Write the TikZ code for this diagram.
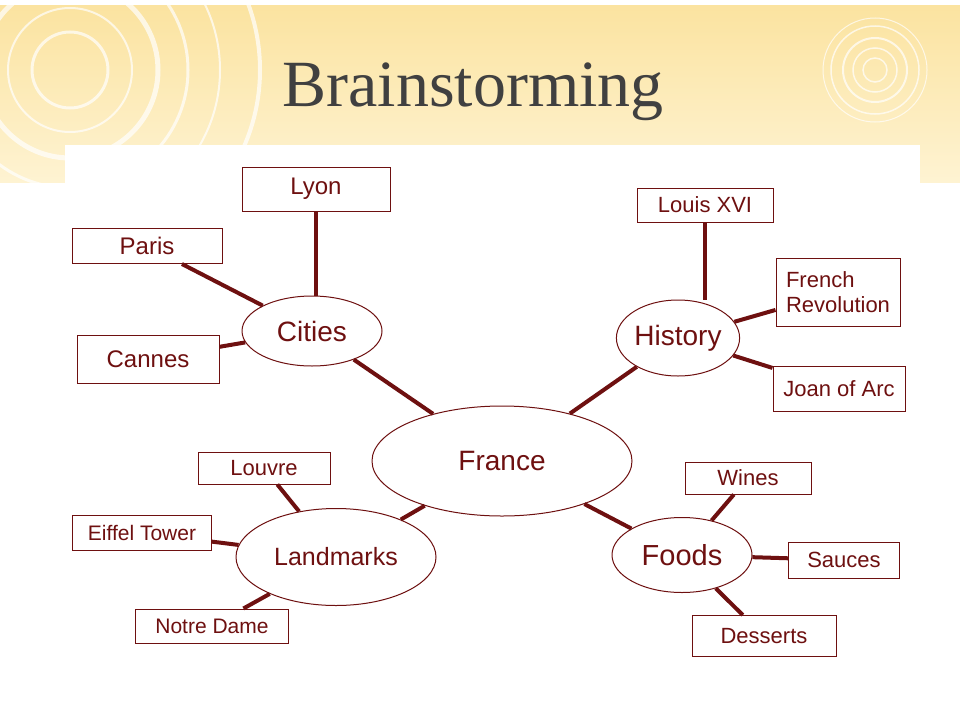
\documentclass[tikz,border=0pt]{standalone}
\usepackage{fontspec}
\setmainfont{Liberation Sans}
\newfontfamily\titlefont{Liberation Serif}
\usetikzlibrary{shapes.geometric}
\definecolor{dred}{HTML}{6E1010}
\definecolor{yel}{HTML}{FBE3A0}
\definecolor{yel2}{HTML}{FEF3D2}
\tikzset{
 box/.style={draw=dred,line width=1pt,text=dred,font=\fontsize{24}{26}\selectfont,inner sep=0pt,align=left},
 oval/.style={ellipse,draw=dred,line width=1pt,text=dred,inner sep=0pt},
 link/.style={draw=dred,line width=4pt},
 ring/.style={white,opacity=0.7}
}
\begin{document}
\begin{tikzpicture}[x=1pt,y=-1pt]
\useasboundingbox (0,0) rectangle (960,720);
\fill[white] (0,0) rectangle (960,720);
\shade[top color=yel,bottom color=yel2] (0,5) rectangle (960,182);
\begin{scope}
\clip (0,5) rectangle (960,182);
\foreach \r/\w in {38/3,62/2,88/5,118/3,150/2,190/4}{
 \draw[ring,line width=\w pt] (70,70) circle (\r);}
\foreach \r/\w in {12/1.5,22/1.5,32/2,44/1.5,52/1}{
 \draw[ring,line width=\w pt] (875,70) circle (\r);}
\end{scope}
\fill[white] (65,145) rectangle (920,720);
\node[text=black!75,font=\titlefont\fontsize{66}{70}\selectfont] (title) at (473,92) {Brainstorming};

% ellipses
\node[oval,minimum width=260,minimum height=110,font=\fontsize{28}{30}\selectfont] (fr) at (502,461) {France};
\node[oval,minimum width=140,minimum height=70,font=\fontsize{28}{30}\selectfont] (ci) at (312,331) {Cities};
\node[oval,minimum width=117,minimum height=76,font=\fontsize{28}{30}\selectfont] (hi) at (678,338) {History};
\node[oval,minimum width=200,minimum height=97,font=\fontsize{25}{27}\selectfont] (la) at (336,557) {Landmarks};
\node[oval,minimum width=140,minimum height=75,font=\fontsize{29}{31}\selectfont] (fo) at (682,555) {Foods};

% boxes
\node[box,minimum width=148,minimum height=44] (ly) at (316,189) {Lyon};
\node[box,minimum width=150,minimum height=35] (pa) at (147,246) {Paris};
\node[box,minimum width=142,minimum height=48] (ca) at (148,359) {Cannes};
\node[box,minimum width=136,minimum height=34,font=\fontsize{22}{24}\selectfont] (lo) at (705,205) {Louis XVI};
\node[box,minimum width=124,minimum height=68,font=\fontsize{22}{25}\selectfont] (re) at (838,292) {French\\Revolution};
\node[box,minimum width=132,minimum height=45,font=\fontsize{22}{24}\selectfont] (jo) at (839,389) {Joan of Arc};
\node[box,minimum width=132,minimum height=32,font=\fontsize{22}{24}\selectfont] (lv) at (264,468) {Louvre};
\node[box,minimum width=139,minimum height=35,font=\fontsize{21}{23}\selectfont] (ei) at (142,533) {Eiffel Tower};
\node[box,minimum width=153,minimum height=34,font=\fontsize{21}{23}\selectfont] (nd) at (212,626) {Notre Dame};
\node[box,minimum width=126,minimum height=32,font=\fontsize{22}{24}\selectfont] (wi) at (748,478) {Wines};
\node[box,minimum width=111,minimum height=36,font=\fontsize{22}{24}\selectfont] (sa) at (844,560) {Sauces};
\node[box,minimum width=144,minimum height=41,font=\fontsize{22}{24}\selectfont] (de) at (764,636) {Desserts};

% links
\draw[link] (fr) -- (ci);
\draw[link] (fr) -- (hi);
\draw[link] (fr) -- (la);
\draw[link] (fr) -- (fo);
\draw[link] (ci.north -| ly.south) -- (ly.south);
\draw[link] (ci) -- (pa);
\draw[link] (ci) -- (ca);
\draw[link] (hi.north -| lo.south) -- (lo.south);
\draw[link] (hi) -- (re);
\draw[link] (hi) -- (jo);
\draw[link] (la) -- (lv);
\draw[link] (la) -- (ei);
\draw[link] (la) -- (nd);
\draw[link] (fo) -- (wi);
\draw[link] (fo) -- (sa);
\draw[link] (fo) -- (de);
\end{tikzpicture}
\end{document}
